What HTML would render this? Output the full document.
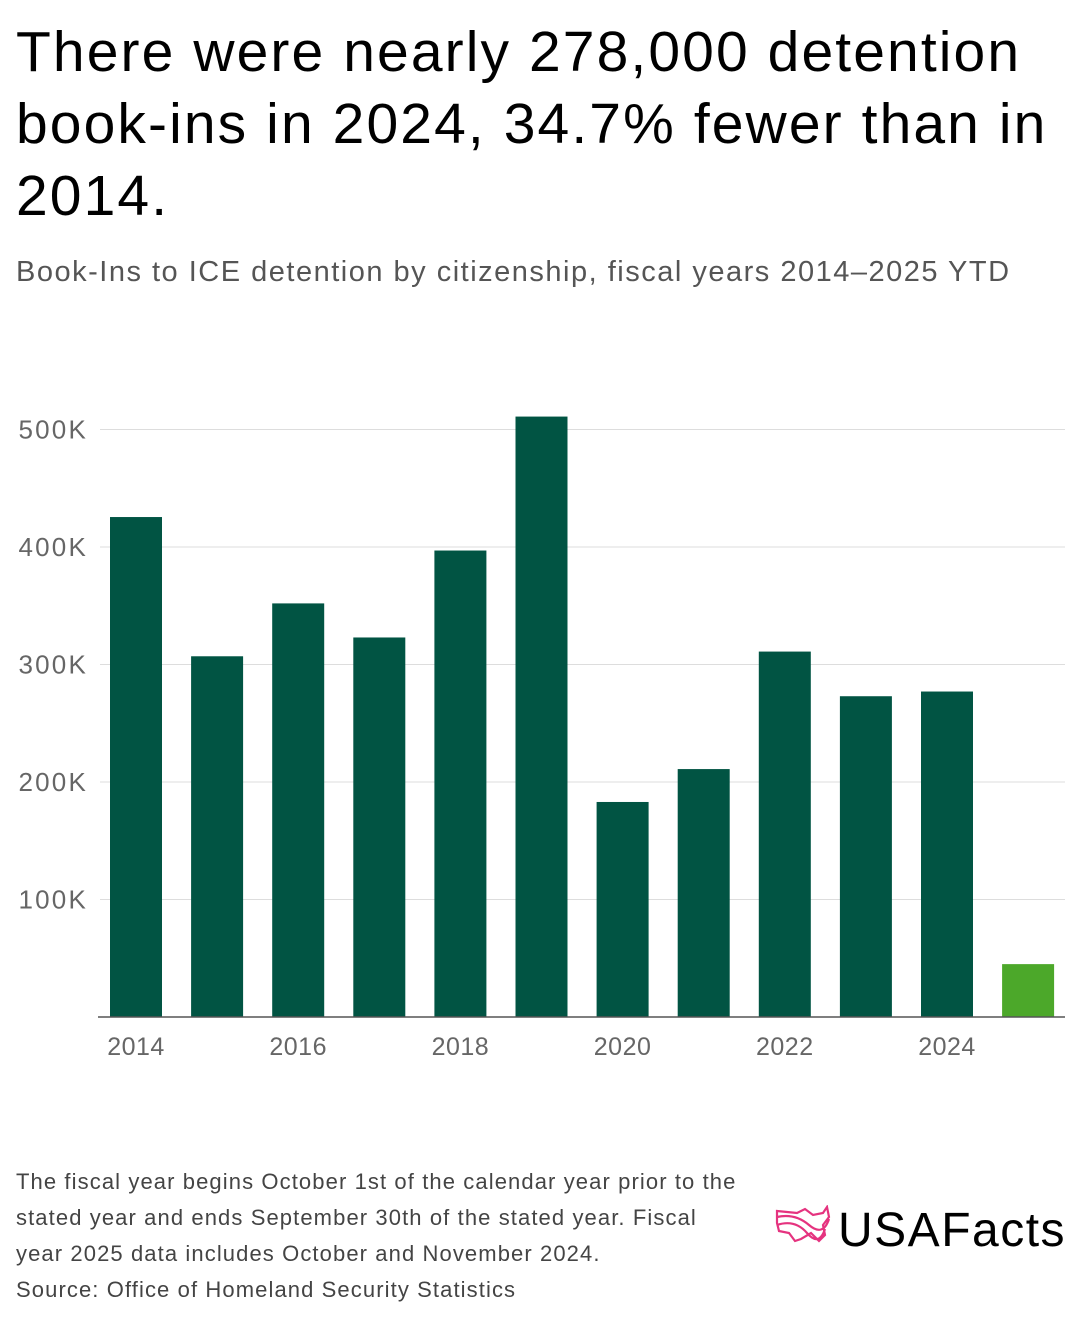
<!DOCTYPE html>
<html><head><meta charset="utf-8">
<style>
body{margin:0;background:#fff;font-family:"Liberation Sans",sans-serif;}
#wrap{position:relative;width:1080px;height:1322px;overflow:hidden;}
h1{position:absolute;left:16px;top:16px;margin:0;font-size:57px;line-height:72px;font-weight:500;color:#000;letter-spacing:2.1px;width:1070px;white-space:nowrap;}
.sub{position:absolute;left:16px;top:256px;font-size:29px;color:#555;letter-spacing:1.5px;white-space:nowrap;}
.note{position:absolute;left:16px;top:1164px;font-size:22px;line-height:36px;color:#444;letter-spacing:1.1px;white-space:nowrap;}
.logo{position:absolute;left:775px;top:1205px;}
.logotext{position:absolute;left:838px;top:1203px;font-size:48px;font-weight:500;color:#000;letter-spacing:1.5px;}
</style></head><body>
<div id="wrap">
<h1>There were nearly 278,000 detention<br>book-ins in 2024, 34.7% fewer than in<br>2014.</h1>
<div class="sub">Book-Ins to ICE detention by citizenship, fiscal years 2014–2025 YTD</div>
<svg id="chart" width="1080" height="1100" style="position:absolute;left:0;top:0"></svg>
<div class="note">The fiscal year begins October 1st of the calendar year prior to the<br>stated year and ends September 30th of the stated year. Fiscal<br>year 2025 data includes October and November 2024.<br>Source: Office of Homeland Security Statistics</div>
<svg class="logo" width="56" height="40" viewBox="0 0 56 40"><path d="M2 6 L22 8 L30 4 L38 10 L48 8 L52 2 L54 12 L48 20 L50 30 L44 36 L36 28 L26 34 L20 36 L14 28 L4 26 L2 18 Z M2 12 Q20 8 34 20 T54 14 M2 20 Q20 14 32 28 T50 24" fill="none" stroke="#e5337f" stroke-width="2.2"/></svg>
<div class="logotext">USAFacts</div>
</div>
<script>
const years=[2014,2015,2016,2017,2018,2019,2020,2021,2022,2023,2024,2025];
const values=[425500,307000,352000,323000,397000,511000,183000,211000,311000,273000,277000,45000];
const yTicks=[100000,200000,300000,400000,500000];
const yTickLabels=["100K","200K","300K","400K","500K"];
const xTickLabels=["2014","2016","2018","2020","2022","2024"];
const svg=document.getElementById('chart');
const NS="http://www.w3.org/2000/svg";
const y0=1017,pxPer=117.5/100000;
const yScale=v=>y0-v*pxPer;
const xCenter=i=>136+i*81.1;
const bw=52;
function mk(t,a){const e=document.createElementNS(NS,t);for(const k in a)e.setAttribute(k,a[k]);svg.appendChild(e);return e;}
yTicks.forEach((t,i)=>{
 const g=mk('line',{x1:100,x2:1065,y1:yScale(t),y2:yScale(t),stroke:'#ddd','stroke-width':1});
 
 
 const l=mk('text',{x:88,y:yScale(t)+9,'text-anchor':'end','font-size':26,'letter-spacing':2.2,fill:'#666','font-family':'Liberation Sans'});
 l.textContent=yTickLabels[i];
 
 
});
values.forEach((v,i)=>{
 const r=mk('rect',{x:xCenter(i)-bw/2,y:yScale(v),width:bw,height:y0-yScale(v),fill:years[i]===2025?'#4ca82a':'#015443'});
 
 
});
const ax=mk('line',{x1:98,x2:1065,y1:y0,y2:y0,stroke:'#555','stroke-width':1.5});


xTickLabels.forEach(lab=>{
 const i=years.indexOf(+lab);
 const t=mk('text',{x:xCenter(i),y:1055,'text-anchor':'middle','font-size':25,'letter-spacing':0.5,fill:'#666','font-family':'Liberation Sans'});
 t.textContent=lab;
 
 
});
</script>
</body></html>
